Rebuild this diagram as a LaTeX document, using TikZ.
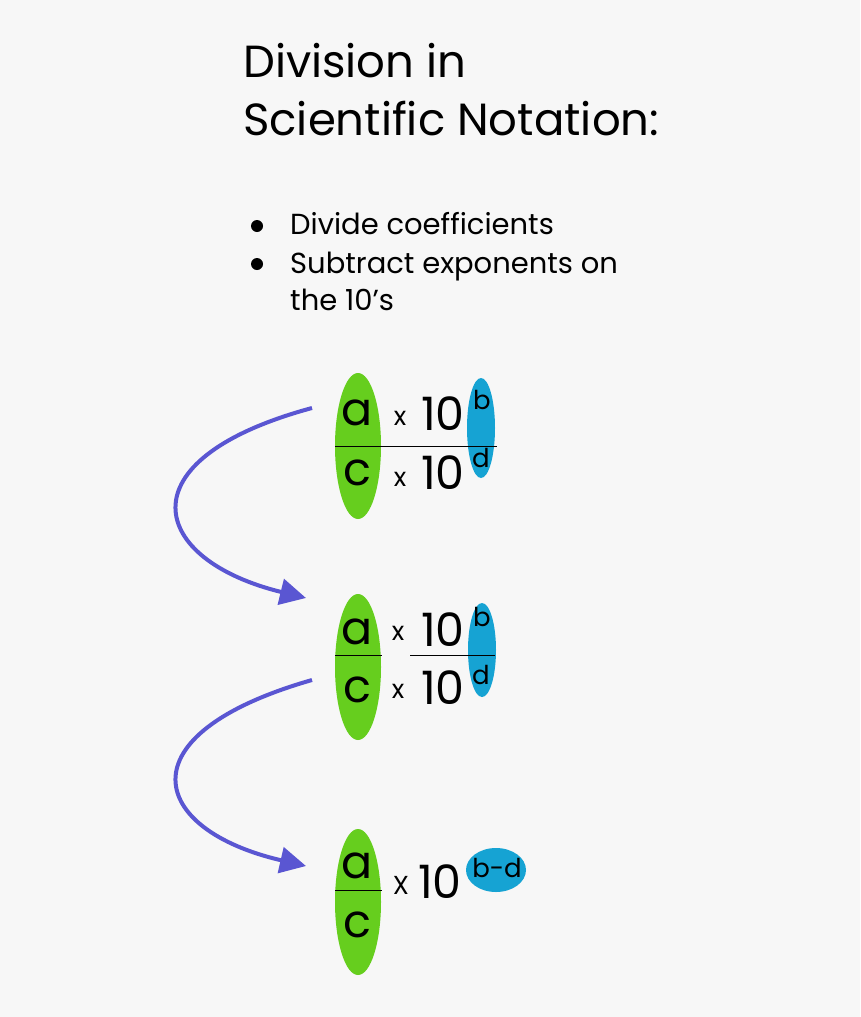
\documentclass[tikz,border=0pt]{standalone}
\usepackage{fontspec}
\setmainfont{Poppins}
\usetikzlibrary{arrows.meta}
\definecolor{bg}{HTML}{F7F7F7}
\definecolor{grn}{HTML}{66CE1E}
\definecolor{blu}{HTML}{16A3D3}
\definecolor{pur}{HTML}{5A56D2}
\begin{document}
\begin{tikzpicture}[x=1pt,y=-1pt,
  big/.style={font=\fontsize{46}{46}\selectfont,inner sep=0pt},
  sup/.style={font=\fontsize{26}{26}\selectfont,inner sep=0pt},
  small/.style={font=\fontsize{26}{26}\selectfont,inner sep=0pt},
  txt/.style={font=\fontsize{29}{36}\selectfont,inner sep=0pt,anchor=base west},
  arr/.style={pur,line width=4pt,-{Triangle[length=26pt,width=26pt]}},
  frac/.style={line width=0.8pt}]
\fill[bg] (0,0) rectangle (860,1017);
\node[font=\fontsize{45}{58}\selectfont,inner sep=0pt,anchor=base west] (t1) at (243,77) {Division in};
\node[font=\fontsize{45}{58}\selectfont,inner sep=0pt,anchor=base west] (t2) at (243,135) {Scientific Notation:};
\fill (257,226) circle (6);
\fill (257,264) circle (6);
\node[txt] (b1) at (290,234) {Divide coefficients};
\node[txt] (b2) at (290,273) {Subtract exponents on};
\node[txt] (b3) at (290,310) {the 10’s};
% formula 1
\fill[grn] (358,446) ellipse (23 and 73);
\fill[blu] (481,428) ellipse (14 and 50);
\draw[frac] (335,446) -- (497,446);
\node[big] (a1) at (357,413) {a};
\node[big] (c1) at (357,473) {c};
\node[small] (x1) at (400,418) {x};
\node[big] (n1) at (443,414) {10};
\node[sup] (e1) at (482,400) {b};
\node[small] (x2) at (400,479) {x};
\node[big] (n2) at (443,473) {10};
\node[sup] (e2) at (481,458) {d};
% formula 2
\fill[grn] (358,667) ellipse (23 and 73);
\fill[blu] (482,650) ellipse (14 and 47);
\draw[frac] (335,655) -- (382,655);
\draw[frac] (410,655) -- (495,655);
\node[big] (a2) at (357,632) {a};
\node[big] (c2) at (357,690) {c};
\node[small] (x3) at (398,633) {x};
\node[small] (x4) at (398,691) {x};
\node[big] (n3) at (443,630) {10};
\node[sup] (e3) at (482,617) {b};
\node[big] (n4) at (443,688) {10};
\node[sup] (e4) at (481,675) {d};
% formula 3
\fill[grn] (358,902) ellipse (23 and 73);
\fill[blu] (496,870) ellipse (30 and 22);
\draw[frac] (335,890) -- (382,890);
\node[big] (a3) at (357,866) {a};
\node[big] (c3) at (357,925) {c};
\node[small] (x5) at (401,885) {X};
\node[big] (n5) at (440,882) {10};
\node[sup] (e5) at (497,868) {b-d};
% arrows
\coordinate (s1) at (312,408);
\coordinate (s2) at (312,680);
\draw[arr] (s1) .. controls (120,460) and (150,560) .. (306,598);
\draw[arr] (s2) .. controls (120,735) and (150,830) .. (306,866);
\end{tikzpicture}
\end{document}
